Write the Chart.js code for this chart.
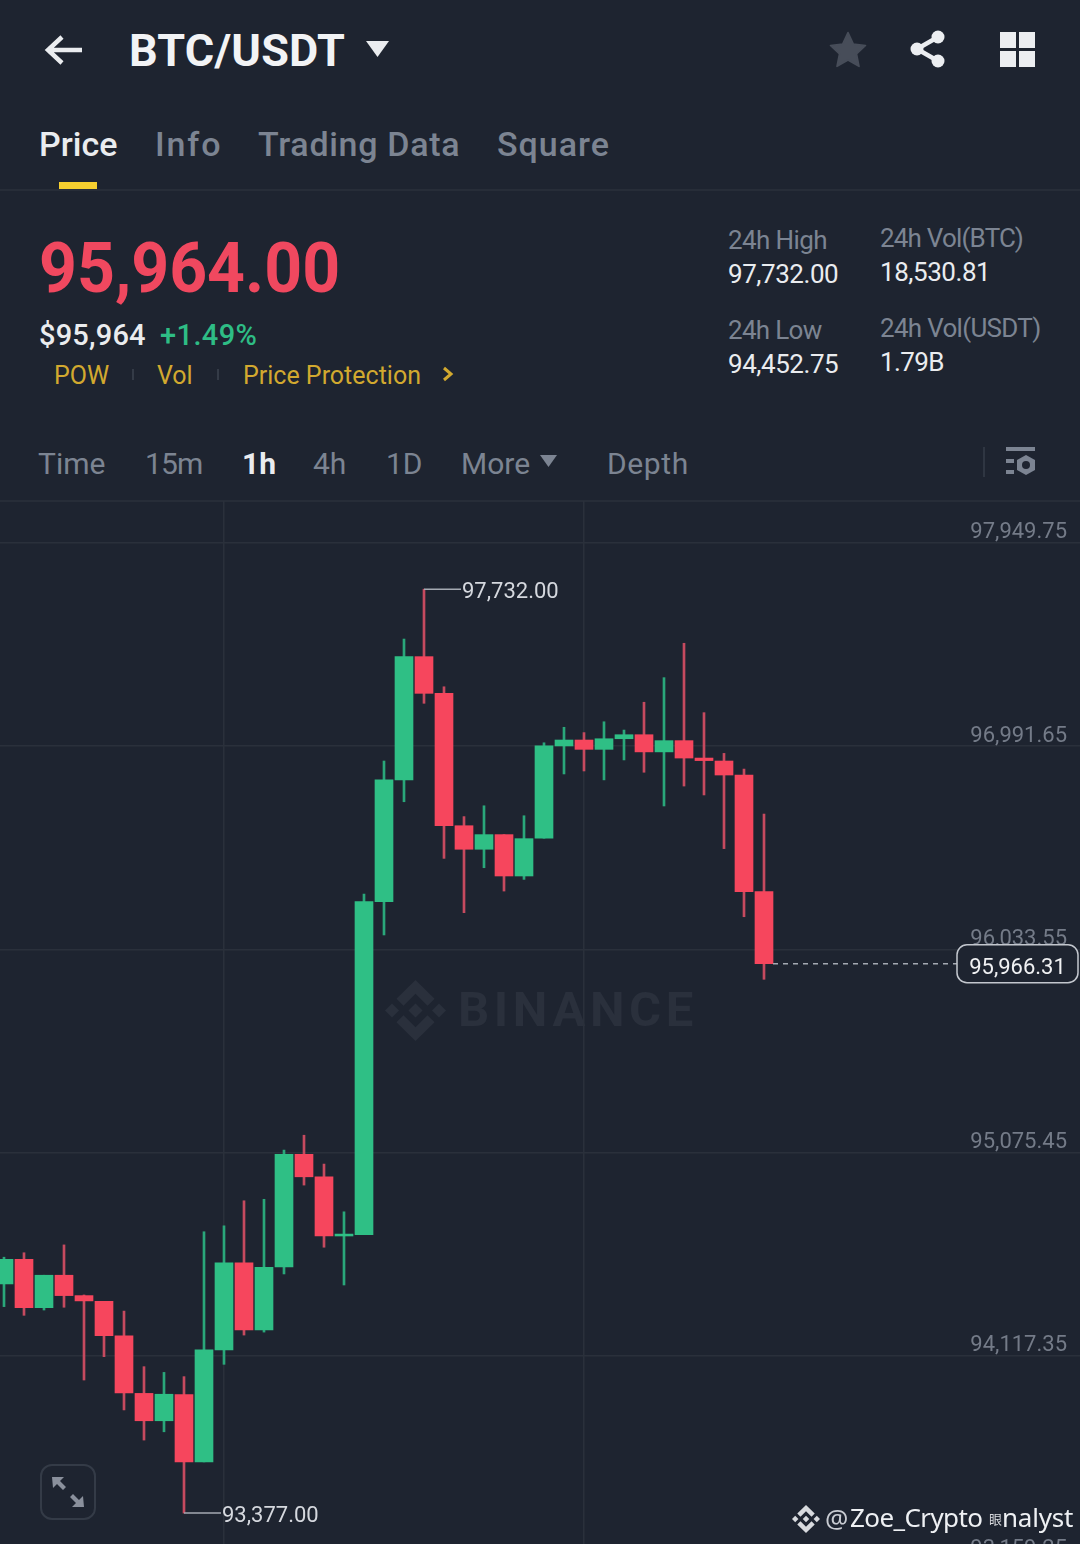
<!DOCTYPE html>
<html>
<head>
<meta charset="utf-8">
<title>BTC/USDT</title>
<script src="https://cdn.jsdelivr.net/npm/chart.js@4/dist/chart.umd.min.js"></script>
<style>
html, body { margin: 0; padding: 0; background: #1e2430; }
#page { position: relative; width: 1080px; height: 1544px; overflow: hidden; background: #1e2430; font-family: Roboto, sans-serif; }
#page div.t { position: absolute; white-space: nowrap; line-height: 1; transform-origin: left center; }
#page svg { position: absolute; }
.line { position: absolute; left: 0; width: 1080px; height: 2px; background: #272d38; }
.grey { color: #7c8492; }
.white { color: #eaecef; }
.gold { color: #d2a92f; }
#wrap { position: absolute; left: 0; top: 501px; width: 1080px; height: 1069px; }
</style>
</head>
<body>
<div id="page">
  <svg style="left:44px;top:34px" width="40" height="32" viewBox="0 0 40 32"><path d="M18 3 4 16l14 13M4 16h34" fill="none" stroke="#eaecef" stroke-width="4.5"/></svg>
  <div class="t" style="left:129px;top:28px;font-size:45px;font-weight:700;color:#f2f3f5;letter-spacing:0.2px">BTC/USDT</div>
  <svg style="left:365px;top:40px" width="25" height="18" viewBox="0 0 25 18"><path d="M1 1h23L12.5 17z" fill="#eaecef"/></svg>
  <svg style="left:828px;top:30px" width="40" height="40" viewBox="0 0 24 24"><path d="M12 1.5l3.2 7 7.3.8-5.4 5 1.5 7.5-6.6-3.8-6.6 3.8 1.5-7.5-5.4-5 7.3-.8z" fill="#474d59" stroke="#474d59" stroke-linejoin="round"/></svg>
  <svg style="left:908px;top:29px" width="40" height="40" viewBox="0 0 40 40"><path d="M30 8 9 20l21 12" fill="none" stroke="#eceef1" stroke-width="4.5"/><circle cx="30" cy="8" r="6.5" fill="#eceef1"/><circle cx="9" cy="20" r="6.5" fill="#eceef1"/><circle cx="30" cy="32" r="6.5" fill="#eceef1"/></svg>
  <svg style="left:1000px;top:32px" width="36" height="36" viewBox="0 0 36 36" fill="#eceef1"><rect x="0" y="0" width="16" height="16"/><rect x="19" y="0" width="16" height="16"/><rect x="0" y="19" width="16" height="16"/><rect x="19" y="19" width="16" height="16"/></svg>

  <div class="t" style="left:39px;top:127px;font-size:34px;font-weight:500;color:#eaecef">Price</div>
  <div class="t grey" style="left:155px;top:127px;font-size:34px;font-weight:500;letter-spacing:1.9px">Info</div>
  <div class="t grey" style="left:258px;top:127px;font-size:34px;font-weight:500;letter-spacing:0.7px">Trading Data</div>
  <div class="t grey" style="left:497px;top:127px;font-size:34px;font-weight:500;letter-spacing:1px">Square</div>
  <div style="position:absolute;left:59px;top:182px;width:38px;height:7px;background:#f6cf2f"></div>
  <div class="line" style="top:189px"></div>

  <div class="t" style="left:39px;top:233px;font-size:70px;font-weight:700;color:#f0485f;transform:scaleX(0.945)">95,964.00</div>
  <div class="t white" style="left:39px;top:321px;font-size:29px;font-weight:500;letter-spacing:0.2px">$95,964</div>
  <div class="t" style="left:160px;top:321px;font-size:29px;font-weight:500;color:#2ebd85;letter-spacing:0.4px">+1.49%</div>
  <div class="t gold" style="left:54px;top:363px;font-size:25px">POW</div>
  <div class="t gold" style="left:157px;top:363px;font-size:25px">Vol</div>
  <div class="t gold" style="left:243px;top:363px;font-size:25px">Price Protection</div>
  <div style="position:absolute;left:132px;top:369px;width:2px;height:11px;background:#343b47"></div>
  <div style="position:absolute;left:217px;top:369px;width:2px;height:11px;background:#343b47"></div>
  <svg style="left:441px;top:366px" width="14" height="16" viewBox="0 0 14 16"><path d="M3 2l7 6-7 6" fill="none" stroke="#d2a92f" stroke-width="3"/></svg>

  <div class="t grey" style="left:728px;top:227px;font-size:26px;letter-spacing:-0.6px">24h High</div>
  <div class="t white" style="left:728px;top:261px;font-size:26px;letter-spacing:-0.45px">97,732.00</div>
  <div class="t grey" style="left:728px;top:317px;font-size:26px;letter-spacing:-0.7px">24h Low</div>
  <div class="t white" style="left:728px;top:351px;font-size:26px;letter-spacing:-0.45px">94,452.75</div>
  <div class="t grey" style="left:880px;top:225px;font-size:26px;letter-spacing:-0.8px">24h Vol(BTC)</div>
  <div class="t white" style="left:880px;top:259px;font-size:26px;letter-spacing:-0.45px">18,530.81</div>
  <div class="t grey" style="left:880px;top:315px;font-size:26px;letter-spacing:-0.7px">24h Vol(USDT)</div>
  <div class="t white" style="left:880px;top:349px;font-size:26px;letter-spacing:-0.6px">1.79B</div>

  <div class="t grey" style="left:38px;top:449px;font-size:30px">Time</div>
  <div class="t grey" style="left:145px;top:449px;font-size:30px;letter-spacing:-0.8px">15m</div>
  <div class="t" style="left:242px;top:449px;font-size:30px;font-weight:700;color:#eaecef">1h</div>
  <div class="t grey" style="left:313px;top:449px;font-size:30px">4h</div>
  <div class="t grey" style="left:386px;top:449px;font-size:30px">1D</div>
  <div class="t grey" style="left:461px;top:449px;font-size:30px">More</div>
  <svg style="left:540px;top:455px" width="17" height="12" viewBox="0 0 17 12"><path d="M0 0h17L8.5 12z" fill="#7c8492"/></svg>
  <div class="t grey" style="left:607px;top:449px;font-size:30px;letter-spacing:0.6px">Depth</div>
  <div style="position:absolute;left:983px;top:447px;width:2px;height:30px;background:#2f3642"></div>
  <svg style="left:1005px;top:446px" width="31" height="32" viewBox="0 0 31 32" fill="#7c8492"><rect x="1" y="1" width="29" height="4"/><rect x="1" y="13" width="8" height="4"/><rect x="1" y="24" width="8" height="4"/><path d="M21 9l9 5v10l-9 5-9-5V14z"/><circle cx="21" cy="19" r="4" fill="#1e2430"/></svg>
  <div class="line" style="top:500px"></div>

  <!-- watermark sits under the transparent canvas -->
  <svg style="left:385px;top:980px" width="61" height="61" viewBox="0 0 126 126" fill="#2a303c"><path d="M38.17 53.08 63 28.25l24.84 24.84 14.44-14.44L63 0 23.73 38.65z"/><path d="M87.84 72.92 63 97.75 38.16 72.92 23.7 87.35 63 126l39.3-38.65z"/><path d="M0 63l14.44-14.44L28.88 63 14.44 77.44z"/><path d="M97.12 63l14.44-14.44L126 63l-14.44 14.44z"/><path d="M77.65 63 63 48.35 48.35 63 63 77.65z"/></svg>
  <div class="t" style="left:458px;top:985px;font-size:49px;font-weight:700;color:#2a303c;letter-spacing:4.6px">BINANCE</div>

  <div id="wrap"><canvas id="chart" width="1080" height="1069"></canvas></div>

  <svg style="left:40px;top:1464px" width="56" height="56" viewBox="0 0 56 56"><rect x="1" y="1" width="54" height="54" rx="11" fill="none" stroke="#343b47" stroke-width="2"/><path d="M12 13h12l-4 4 6 6-3 3-6-6-4 4zM44 43H32l4-4-6-6 3-3 6 6 4-4z" fill="#8a909c"/></svg>

  <svg style="left:792px;top:1505px" width="28" height="28" viewBox="0 0 126 126" fill="#d8dade"><path d="M38.17 53.08 63 28.25l24.84 24.84 14.44-14.44L63 0 23.73 38.65z"/><path d="M87.84 72.92 63 97.75 38.16 72.92 23.7 87.35 63 126l39.3-38.65z"/><path d="M0 63l14.44-14.44L28.88 63 14.44 77.44z"/><path d="M97.12 63l14.44-14.44L126 63l-14.44 14.44z"/><path d="M77.65 63 63 48.35 48.35 63 63 77.65z"/></svg>
  <div class="t" style="left:825px;top:1505px;font-size:26px;font-family:'Noto Sans';color:#c9ccd2">@</div>
  <div class="t" style="left:850px;top:1504px;font-size:26px;font-family:'Noto Sans';color:#eef0f3;letter-spacing:-0.6px">Zoe_Crypto</div>
  <div class="t" style="left:989px;top:1512px;font-size:13px;font-family:'Noto Sans CJK SC';color:#d8dade">眼</div>
  <div class="t" style="left:1002px;top:1504px;font-size:26px;font-family:'Noto Sans';color:#eef0f3;letter-spacing:-0.2px">nalyst</div>
</div>

<script>
// candles, oldest first
var opens = [94457, 94573, 94345, 94498, 94402, 94375, 94212, 93941, 93812, 93935, 93618, 94146, 94557, 94240, 94537, 95068, 94962, 94683, 94689, 96259, 96833, 97414, 97241, 96617, 96506, 96575, 96380, 96558, 96993, 97021, 96977, 97027, 97046, 96965, 97018, 96936, 96922, 96856, 96306];
var closes = [94573, 94345, 94498, 94402, 94377, 94213, 93943, 93812, 93937, 93618, 94146, 94557, 94240, 94535, 95068, 94962, 94683, 94692, 96259, 96833, 97414, 97241, 96617, 96506, 96575, 96380, 96556, 96993, 97021, 96977, 97027, 97046, 96965, 97018, 96936, 96924, 96856, 96306, 95966.31];
var highs = [94583, 94604, 94498, 94641, 94405, 94375, 94329, 94067, 94040, 94020, 94703, 94731, 94849, 94856, 95088, 95158, 95022, 94797, 96295, 96922, 97497, 97732, 97272, 96660, 96711, 96575, 96664, 97008, 97081, 97056, 97107, 97068, 97199, 97315, 97477, 97150, 96958, 96884, 96672];
var lows = [94350, 94309, 94334, 94347, 94004, 94114, 93863, 93721, 93760, 93377, 93618, 94078, 94216, 94230, 94504, 94923, 94630, 94452, 94689, 96102, 96730, 97194, 96463, 96207, 96419, 96309, 96364, 96558, 96861, 96875, 96833, 96927, 96869, 96710, 96804, 96762, 96509, 96188, 95893];
var priceTicks = [97949.75, 96991.65, 96033.55, 95075.45, 94117.35, 93159.25];
var timeGrid = [11, 29];
var highMark = { index: 21, value: 97732 };
var lowMark = { index: 9, value: 93377 };
var lastPrice = 95966.31;

var upColor = '#2fbf85';
var downColor = '#f6465d';
var upWick = '#2aa77a';
var downWick = '#c64a5f';

function fmt(v) {
  return v.toLocaleString('en-US', { minimumFractionDigits: 2, maximumFractionDigits: 2 });
}

var wickData = [], bodyData = [], wickColors = [], bodyColors = [];
for (var i = 0; i < opens.length; i++) {
  var up = closes[i] >= opens[i];
  wickData.push({ x: i, y: [lows[i], highs[i]] });
  bodyData.push({ x: i, y: [opens[i], closes[i]] });
  wickColors.push(up ? upWick : downWick);
  bodyColors.push(up ? upColor : downColor);
}

var marksPlugin = {
  id: 'marks',
  afterDatasetsDraw: function (chart) {
    var ctx = chart.ctx, xs = chart.scales.x, ys = chart.scales.y;
    ctx.save();
    ctx.font = '22px Roboto';
    ctx.textBaseline = 'middle';
    ctx.textAlign = 'left';

    // high and low flags
    [highMark, lowMark].forEach(function (m) {
      var x = xs.getPixelForValue(m.index), y = ys.getPixelForValue(m.value);
      ctx.strokeStyle = '#a4a9b2';
      ctx.lineWidth = 1.5;
      ctx.beginPath();
      ctx.moveTo(x, y);
      ctx.lineTo(x + 37, y);
      ctx.stroke();
      ctx.fillStyle = '#d5d8de';
      ctx.fillText(fmt(m.value), x + 38, y + 3);
    });

    // last price line and its box
    var lx = xs.getPixelForValue(opens.length - 1) + 9, ly = ys.getPixelForValue(lastPrice);
    ctx.strokeStyle = '#a4a9b2';
    ctx.lineWidth = 1.5;
    ctx.setLineDash([5, 5]);
    ctx.beginPath();
    ctx.moveTo(lx, ly);
    ctx.lineTo(957, ly);
    ctx.stroke();
    ctx.setLineDash([]);
    ctx.beginPath();
    ctx.roundRect(957, ly - 19, 121, 38, 10);
    ctx.fillStyle = '#1e2430';
    ctx.fill();
    ctx.strokeStyle = '#c3c7ce';
    ctx.lineWidth = 1.5;
    ctx.stroke();
    ctx.fillStyle = '#f0f1f3';
    ctx.textAlign = 'center';
    ctx.fillText(fmt(lastPrice), 1017.5, ly + 4.5);
    ctx.restore();
  }
};

// axis labels sit inside the plot, so the axes must not eat any of it
function noMargins(axis) {
  axis.paddingTop = axis.paddingBottom = axis.paddingLeft = axis.paddingRight = 0;
  if (axis.isHorizontal()) { axis.height = 0; } else { axis.width = 0; }
}

new Chart(document.getElementById('chart').getContext('2d'), {
  type: 'bar',
  plugins: [marksPlugin],
  data: {
    datasets: [
      { data: wickData, backgroundColor: wickColors, barThickness: 2, grouped: false, order: 2 },
      { data: bodyData, backgroundColor: bodyColors, barThickness: 18, grouped: false, order: 1 }
    ]
  },
  options: {
    responsive: false,
    animation: false,
    devicePixelRatio: 1,
    layout: { padding: 0 },
    plugins: { legend: { display: false }, tooltip: { enabled: false } },
    scales: {
      x: {
        type: 'linear',
        offset: false,
        min: -0.2,
        max: 53.8,
        afterFit: noMargins,
        afterBuildTicks: function (axis) {
          axis.ticks = timeGrid.map(function (v) { return { value: v }; });
        },
        grid: { color: '#2a303b', lineWidth: 1.5, drawTicks: false, offset: false },
        border: { display: false },
        ticks: { display: false }
      },
      y: {
        type: 'linear',
        position: 'right',
        min: 93108.5,
        max: 98147.7,
        afterFit: noMargins,
        afterBuildTicks: function (axis) {
          axis.ticks = priceTicks.map(function (v) { return { value: v }; });
        },
        grid: { color: '#2a303b', lineWidth: 1.5, drawTicks: false },
        border: { display: false },
        ticks: {
          mirror: true,
          padding: -13,
          labelOffset: -10,
          color: '#747b88',
          font: { family: 'Roboto', size: 22 },
          callback: function (v) { return fmt(v); }
        }
      }
    }
  }
});
</script>
</body>
</html>
